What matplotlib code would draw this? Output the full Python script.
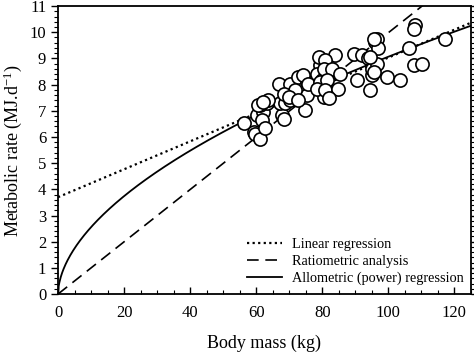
import numpy as np
import matplotlib
matplotlib.use("Agg")
import matplotlib.pyplot as plt
from matplotlib.ticker import MultipleLocator

plt.rcParams["font.family"] = ["Liberation Serif", "DejaVu Serif"]
plt.rcParams["mathtext.fontset"] = "stix"

# body mass (kg) and metabolic rate (MJ/d)
mass = [56.2, 60.2, 62.2, 63.2, 61.2, 61.7, 59.2, 59.7, 61.2, 62.7,
        67.8, 68.3, 67.3, 68.8, 71.3, 74.8, 70.3, 75.4, 66.8, 70.3,
        72.8, 75.4, 71.8, 68.3, 69.8, 63.7, 72.8, 79.4, 78.4, 80.9,
        80.4, 79.9, 78.9, 83.9, 80.9, 89.5, 92.0, 94.0, 96.0, 96.6,
        80.4, 82.9, 85.5, 74.3, 75.8, 79.4, 81.4, 78.4, 80.9, 84.9,
        81.9, 90.5, 95.0, 95.0, 94.5, 108.2, 107.7, 97.0, 106.2, 117.3,
        96.6, 107.7, 110.2, 99.6, 103.6, 95.6, 94.5, 60.7, 62.2, 95.6]
rate = [6.55, 6.83, 6.96, 7.28, 7.21, 6.64, 6.20, 6.13, 5.94, 6.33,
        6.83, 6.70, 7.28, 7.30, 7.60, 7.02, 7.40, 7.60, 8.04, 8.04,
        8.30, 8.10, 7.79, 7.66, 7.53, 7.40, 7.40, 8.74, 8.42, 7.92,
        7.53, 8.17, 9.06, 9.12, 8.93, 9.16, 9.12, 9.00, 9.63, 9.76,
        8.61, 8.61, 8.42, 8.36, 8.04, 8.10, 8.17, 7.85, 7.79, 7.85,
        7.47, 8.17, 8.36, 8.61, 7.79, 10.27, 10.14, 9.38, 9.38, 9.76,
        8.80, 8.74, 8.80, 8.30, 8.17, 8.49, 9.06, 7.21, 7.34, 9.76]

# fitted models
lin_intercept = 3.7
lin_slope = 0.0533
ratio_k = 0.0998
allo_a = 0.72
allo_b = 0.55

fig = plt.figure(figsize=(4.74, 3.56), dpi=100)
ax = fig.add_axes([0.1224, 0.174, 0.871, 0.809])

xs = np.linspace(0, 125, 600)
ax.plot(xs, lin_intercept + lin_slope * xs, color="black", lw=1.6,
        linestyle=(0, (1, 1.5)), label="Linear regression")
ax.plot(xs, ratio_k * xs, color="black", lw=1.2,
        linestyle=(0, (7, 4)), label="Ratiometric analysis")
ax.plot(xs, allo_a * xs ** allo_b, color="black", lw=1.3,
        label="Allometric (power) regression")

ax.plot(mass, rate, "o", ms=9.5, mfc="white", mec="black", mew=1.2, zorder=3)

ax.set_xlim(0, 125)
ax.set_ylim(0, 11)
ax.xaxis.set_major_locator(MultipleLocator(20))
ax.xaxis.set_minor_locator(MultipleLocator(5))
ax.yaxis.set_major_locator(MultipleLocator(1))
ax.yaxis.set_minor_locator(MultipleLocator(0.2))
ax.tick_params(axis="x", which="both", direction="in", labelsize=12, pad=8)
ax.tick_params(axis="y", which="both", direction="out", labelsize=12)
ax.tick_params(which="major", length=5, width=1)
ax.tick_params(which="minor", length=3, width=0.8)
ax.tick_params(axis="y", which="both", right=True)
for s in ax.spines.values():
    s.set_linewidth(1.3)

ax.set_xlabel("Body mass (kg)", fontsize=13, labelpad=10)
ax.set_ylabel("Metabolic rate (MJ.d$^{\\mathregular{-1}}$)", fontsize=13, labelpad=4)

ax.legend(loc="lower right", bbox_to_anchor=(0.997, 0.012), frameon=False,
          fontsize=10.3, handlelength=2.45, handletextpad=0.7,
          labelspacing=0.26, borderaxespad=0)

fig.savefig("out.png", dpi=100)
